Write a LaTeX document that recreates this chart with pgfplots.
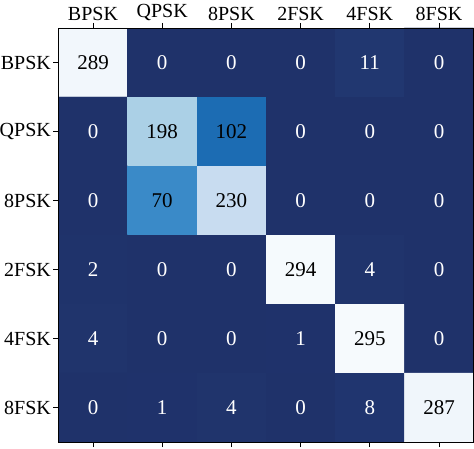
\documentclass[border=0pt]{standalone}
\usepackage{pgfplots}
\usepackage{pgfplotstable}
\pgfplotsset{compat=1.18}
\usepackage{fontspec}
\setmainfont{Liberation Serif}

\pgfplotstableread{
x y c
0 0 289
1 0 0
2 0 0
3 0 0
4 0 11
5 0 0
0 1 0
1 1 198
2 1 102
3 1 0
4 1 0
5 1 0
0 2 0
1 2 70
2 2 230
3 2 0
4 2 0
5 2 0
0 3 2
1 3 0
2 3 0
3 3 294
4 3 4
5 3 0
0 4 4
1 4 0
2 4 0
3 4 1
4 4 295
5 4 0
0 5 0
1 5 1
2 5 4
3 5 0
4 5 8
5 5 287
}\cm

\newcommand\celltext[1]{\ifnum#1<50 \textcolor{white}{#1}\else #1\fi}

\begin{document}
\begin{tikzpicture}
\begin{axis}[name=ax, scale only axis, width=415.2pt, height=414pt,
  xmin=-0.5, xmax=5.5, ymin=-0.5, ymax=5.5, y dir=reverse,
  xtick={0,...,5}, ytick={0,...,5},
  xticklabels={BPSK,QPSK,8PSK,2FSK,4FSK,8FSK},
  yticklabels={BPSK,QPSK,8PSK,2FSK,4FSK,8FSK},
  xtick pos=both, xticklabel pos=upper, ytick pos=left, tick align=outside,
  major tick length=5pt,
  xticklabel style={yshift=-1pt},
  yticklabel style={xshift=1pt},
  colormap={cm}{rgb255(0)=(31,50,106) rgb255(12)=(33,55,113) rgb255(70)=(58,138,200) rgb255(102)=(28,108,179) rgb255(198)=(171,208,230) rgb255(230)=(200,220,240) rgb255(295)=(246,250,253)},
  point meta min=0, point meta max=295,
  tick label style={font=\fontsize{20}{22}\selectfont},
  axis line style={black, line width=0.8pt},
  every tick/.style={black, line width=0.8pt},
  enlargelimits=false, axis on top]
\addplot[matrix plot*, mesh/cols=6, mesh/rows=6, point meta=explicit] table[meta=c]{\cm};
\addplot[only marks, mark=none, point meta=explicit symbolic,
  nodes near coords={\celltext{\pgfplotspointmeta}},
  every node near coord/.style={anchor=center, font=\fontsize{21}{23}\selectfont}] table[meta=c]{\cm};
\end{axis}
\pgfresetboundingbox
\path ([xshift=-58.4pt,yshift=-7pt]ax.south west) rectangle ([xshift=0.4pt,yshift=28pt]ax.north east);
\end{tikzpicture}
\end{document}
